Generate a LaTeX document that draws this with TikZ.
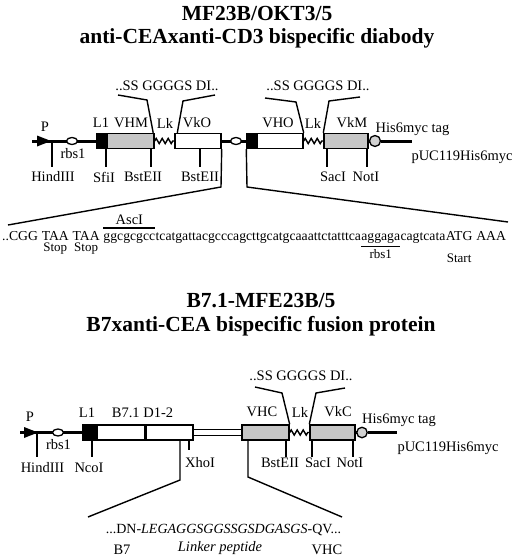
\documentclass[tikz,border=0pt]{standalone}
\usepackage{fontspec}
\setmainfont{Liberation Serif}
\usetikzlibrary{decorations.pathmorphing,shapes.geometric}
\begin{document}
\begin{tikzpicture}[x=1pt,y=-1pt,
  lab/.style={font=\fontsize{14.5}{16}\selectfont, inner sep=0pt},
  ttl/.style={font=\bfseries\fontsize{21.5}{24}\selectfont, inner sep=0pt},
  seq/.style={font=\fontsize{13.7}{15}\selectfont, inner sep=0pt, anchor=base west},
  sml/.style={font=\fontsize{13}{15}\selectfont, inner sep=0pt, anchor=base},
  bbone/.style={line width=3pt},
  boxst/.style={draw, line width=1.4pt, inner sep=0pt, minimum height=15pt},
  graybox/.style={boxst, fill=gray!45},
  whitebox/.style={boxst, fill=white},
  blackbox/.style={boxst, fill=black},
  tick/.style={line width=1.4pt},
  callout/.style={line width=1.4pt},
  zz/.style={line width=1.4pt, decorate, decoration={zigzag, segment length=6pt, amplitude=2.6pt}},
  rbs/.style={draw, line width=1.3pt, fill=white, ellipse, minimum width=11pt, minimum height=7pt, inner sep=0pt},
  tagc/.style={draw, line width=1.3pt, fill=gray!35, circle, minimum size=11pt, inner sep=0pt},
]
\useasboundingbox (0,0) rectangle (520,557);
\fill[white] (0,0) rectangle (520,557);

% ---------- titles ----------
\node[ttl] (t1) at (257,13) {MF23B/OKT3/5};
\node[ttl] (t2) at (257,38) {anti-CEAxanti-CD3 bispecific diabody};
\node[ttl] (t3) at (261,301) {B7.1-MFE23B/5};
\node[ttl] (t4) at (261,326) {B7xanti-CEA bispecific fusion protein};

% ---------- top construct ----------
\coordinate (bb1) at (0,141);
\coordinate (p1s) at (32,141);
\coordinate (p1e) at (412,141);
\node[blackbox, minimum width=10pt] (l1a) at (102,141) {};
\node[graybox, minimum width=47pt] (vhm) at (130.5,141) {};
\node[whitebox, minimum width=46pt] (vko) at (198,141) {};
\node[blackbox, minimum width=10pt] (l1b) at (252,141) {};
\node[whitebox, minimum width=46pt] (vho) at (280,141) {};
\node[graybox, minimum width=44pt] (vkm) at (346,141) {};
\draw[bbone] (p1s) -- (l1a.west);
\draw[bbone] (vko.east) -- (l1b.west);
\draw[zz] (vhm.east) -- (vko.west);
\draw[zz] (vho.east) -- (vkm.west);
\node[tagc] (tag1) at (375,141) {};
\draw[bbone] (vkm.east) -- (tag1.west);
\draw[bbone] (tag1.east) -- (p1e);
\fill (37,135.5) -- (51,141) -- (37,146.5) -- cycle;
\node[rbs] (rb1) at (72,141) {};
\node[rbs] (rb2) at (236,141) {};

\node[lab] (P1) at (45,127) {P};
\node[lab] (rbsl1) at (73,154) {rbs1};
\node[lab] (L1t) at (101,123) {L1};
\node[lab] (vhmL) at (131,123) {VHM};
\node[lab] (lk1) at (165,123) {Lk};
\node[lab] (vkoL) at (197,123) {VkO};
\node[lab] (vhoL) at (278,123) {VHO};
\node[lab] (lk2) at (313,123) {Lk};
\node[lab] (vkmL) at (352,123) {VkM};
\node[lab] (his1) at (412.5,129) {His6myc tag};
\node[lab] (puc1) at (462,157) {pUC119His6myc};
\node[lab] (hind1) at (53,177) {HindIII};
\node[lab] (sfi) at (104,177) {SfiI};
\node[lab] (bst1) at (143,177) {BstEII};
\node[lab] (bst2) at (200,177) {BstEII};
\node[lab] (sac1) at (333,177) {SacI};
\node[lab] (not1) at (366,177) {NotI};

\coordinate (tkA) at (52,167);
\coordinate (tkB) at (106,167);
\coordinate (tkC) at (151,167);
\coordinate (tkD) at (200,167);
\coordinate (tkE) at (327,167);
\coordinate (tkF) at (367,167);
\draw[tick] (tkA |- bb1) -- (tkA);
\draw[tick] (tkB |- vhm.south) -- (tkB);
\draw[tick] (tkC |- vhm.south) -- (tkC);
\draw[tick] (tkD |- vko.south) -- (tkD);
\draw[tick] (tkE |- vkm.south) -- (tkE);
\draw[tick] (tkF |- vkm.south) -- (tkF);

% linker callouts
\node[lab] (ss1) at (167,86) {..SS GGGGS DI..};
\node[lab] (ss2) at (318,86) {..SS GGGGS DI..};
\coordinate (ca1) at (118,95);
\coordinate (ca2) at (147,100);
\coordinate (ca3) at (183,101);
\coordinate (ca4) at (215,95);
\draw[callout] (ca1) -- (ca2) -- ([xshift=-1.5pt]vhm.north east);
\draw[callout] ([xshift=3pt]vko.north west) -- (ca3) -- (ca4);
\coordinate (cb1) at (265,98);
\coordinate (cb2) at (296,102);
\coordinate (cb3) at (329,101);
\coordinate (cb4) at (360,97);
\draw[callout] (cb1) -- (cb2) -- (vho.north east);
\draw[callout] (vkm.north west) -- (cb3) -- (cb4);

% zoom lines to sequence
\coordinate (za1) at (221,187);
\coordinate (za2) at (8,225);
\coordinate (zb1) at (247,187);
\coordinate (zb2) at (508,222);
\draw[callout] (vko.south east) -- (za1) -- (za2);
\draw[callout] (l1b.south west) -- (zb1) -- (zb2);

% sequence
\node[seq] (s1) at (2,240) {..CGG};
\node[seq] (s1b) at ([xshift=3.4pt]s1.base east) {TAA};
\node[seq] (s1c) at ([xshift=3.4pt]s1b.base east) {TAA};
\node[seq] (s2) at ([xshift=3.4pt]s1c.base east) {ggcgcgcc};
\node[seq] (s3) at (s2.base east) {tcatgattacgcccagcttgcatgcaaattctatttca};
\node[seq] (s4) at (s3.base east) {aggaga};
\node[seq] (s5) at (s4.base east) {cagtcata};
\node[seq] (s6) at (s5.base east) {ATG};
\node[seq] (s7) at ([xshift=3.4pt]s6.base east) {AAA};
\draw[line width=1.4pt] ([yshift=12pt]s2.base west) -- ([yshift=12pt]s2.base east);
\draw[line width=1.4pt] ([yshift=-6.5pt]s4.base west) -- ([yshift=-6.5pt]s4.base east);
\node[sml, font=\fontsize{14.5}{16}\selectfont] (asc) at ([yshift=16pt]s2.base) {AscI};
\node[sml] (stop1) at ([yshift=-11.5pt]s1b.base) {Stop};
\node[sml] (stop2) at ([yshift=-11.5pt]s1c.base) {Stop};
\node[sml] (rbsl2) at ([yshift=-18pt]s4.base) {rbs1};
\node[sml] (start) at ([yshift=-22pt]s6.base) {Start};

% ---------- bottom construct ----------
\coordinate (bb2) at (0,432.5);
\coordinate (p2s) at (20,432.5);
\coordinate (p2e) at (397,432.5);
\node[blackbox, minimum width=14pt] (l1c) at (90,432.5) {};
\node[whitebox, minimum width=96pt] (b7) at (145,432.5) {};
\draw[line width=3pt] (b7.north) -- (b7.south);
\node[draw, line width=1.3pt, fill=white, inner sep=0pt, minimum width=49pt, minimum height=6pt] (dl) at (217.5,432.5) {};
\node[graybox, minimum width=47pt] (vhc) at (265.5,432.5) {};
\node[graybox, minimum width=45pt] (vkc) at (332.5,432.5) {};
\draw[bbone] (p2s) -- (l1c.west);
\draw[zz] (vhc.east) -- (vkc.west);
\node[tagc, minimum size=10.5pt] (tag2) at (362,432.5) {};
\draw[bbone] (vkc.east) -- (tag2.west);
\draw[bbone] (tag2.east) -- (p2e);
\fill (24,427) -- (38,432.5) -- (24,438) -- cycle;
\node[rbs] (rb3) at (58,432.5) {};

\node[lab] (P2) at (30,417) {P};
\node[lab] (rbsl3) at (58.5,445) {rbs1};
\node[lab] (L1u) at (87,413) {L1};
\node[lab] (b7L) at (142.5,413) {B7.1 D1-2};
\node[lab] (vhcL) at (262,412) {VHC};
\node[lab] (lk3) at (300,412) {Lk};
\node[lab] (vkcL) at (338,412) {VkC};
\node[lab] (his2) at (399,420) {His6myc tag};
\node[lab] (puc2) at (448,448) {pUC119His6myc};
\node[lab] (hind2) at (42.5,468) {HindIII};
\node[lab] (nco) at (89,468) {NcoI};
\node[lab] (xho) at (200,463) {XhoI};
\node[lab] (bst3) at (280,463) {BstEII};
\node[lab] (sac2) at (318,463) {SacI};
\node[lab] (not2) at (350,463) {NotI};

\coordinate (tkG) at (37,457);
\coordinate (tkH) at (92,457);
\coordinate (tkI) at (189,450);
\coordinate (tkJ) at (286,457);
\coordinate (tkK) at (312,457);
\coordinate (tkL) at (353,457);
\draw[tick] (tkG |- bb2) -- (tkG);
\draw[tick] (tkH |- l1c.south) -- (tkH);
\draw[tick] (tkI |- b7.south) -- (tkI);
\draw[tick] (tkJ |- vhc.south) -- (tkJ);
\draw[tick] (tkK |- vkc.south) -- (tkK);
\draw[tick] (tkL |- vkc.south) -- (tkL);

\node[lab] (ss3) at (301,376) {..SS GGGGS DI..};
\coordinate (cc1) at (255,387);
\coordinate (cc2) at (282,393);
\coordinate (cc3) at (316,393);
\coordinate (cc4) at (345,388);
\draw[callout] (cc1) -- (cc2) -- (vhc.north east);
\draw[callout] (vkc.north west) -- (cc3) -- (cc4);

\coordinate (zc0) at (180,440);
\coordinate (zc1) at (180,480);
\coordinate (zc2) at (88,517);
\coordinate (zd0) at (248,440);
\coordinate (zd1) at (248,477);
\coordinate (zd2) at (342,517);
\draw[callout] (zc0) -- (zc1) -- (zc2);
\draw[callout] (zd0) -- (zd1) -- (zd2);

\node[lab, font=\fontsize{14}{16}\selectfont] (seq2) at (223.5,530) {...DN-\textit{LEGAGGSGGSSGSDGASGS}-QV...};
\node[lab] (b7t) at (122,550) {B7};
\node[lab] (lnk) at (220,548) {\textit{Linker peptide}};
\node[lab] (vhct) at (327,550) {VHC};
\end{tikzpicture}
\end{document}
